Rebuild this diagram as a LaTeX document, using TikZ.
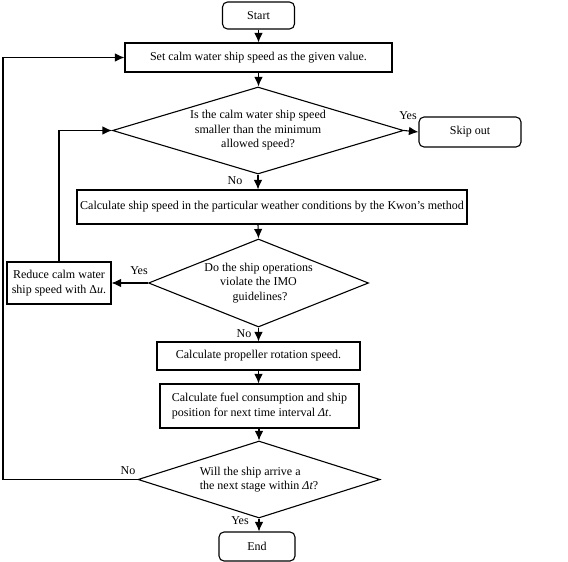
\documentclass[tikz,border=0pt]{standalone}
\usepackage{fontspec}
\setmainfont{Liberation Serif}
\usetikzlibrary{shapes.geometric,arrows.meta}
\begin{document}
\begin{tikzpicture}[x=1bp,y=-1bp,
  every node/.style={font=\fontsize{12bp}{14.5bp}\selectfont},
  box/.style={draw,line width=1.1bp,inner sep=0pt,align=center},
  rbox/.style={box,rounded corners=5bp},
  dec/.style={draw,line width=1.1bp,diamond,inner sep=0pt},
  arr/.style={line width=1.1bp,-{Latex[length=9.5bp,width=8.5bp]}},
  lbl/.style={inner sep=0pt}]
\useasboundingbox (0,0) rectangle (568,562);
\node[rbox,minimum width=72bp,minimum height=27bp] (start) at (258.5,15.5) {Start};
\node[box,minimum width=267bp,minimum height=29bp] (set) at (258.5,57.5) {Set calm water ship speed as the given value.};
\node[dec,aspect=3.34,minimum width=291bp,minimum height=87bp,align=center] (d1) at (258,130.5) {Is the calm water ship speed\\smaller than the minimum\\allowed speed?};
\node[rbox,minimum width=102bp,minimum height=30bp] (skip) at (470,132) {Skip out};
\node[box,minimum width=390bp,minimum height=34bp] (kwon) at (272,207) {Calculate ship speed in the particular weather conditions by the Kwon’s method};
\node[dec,aspect=2.5,minimum width=220bp,minimum height=88bp,align=center] (d2) at (258.5,283) {Do the ship operations\\violate the IMO\\ \ guidelines?};
\node[box,minimum width=104bp,minimum height=42bp] (reduce) at (59,283) {Reduce calm water\\ship speed with Δ\textit{u}.};
\node[box,minimum width=203bp,minimum height=28bp] (prop) at (258.5,356) {Calculate propeller rotation speed.};
\node[box,minimum width=199bp,minimum height=44bp,align=left] (fuel) at (259.5,406) {Calculate fuel consumption and ship\\position for next time interval {\itshape Δt}.};
\node[dec,aspect=3.14,minimum width=242bp,minimum height=77bp,align=left] (d3) at (259,479.5) {Will the ship arrive a\\the next stage within {\itshape Δt}?};
\node[rbox,minimum width=76bp,minimum height=29bp] (end) at (257,546.5) {End};
\coordinate (lp) at (3,479.5);
% connectors
\draw[arr] (start.south) -- (start.south |- set.north);
\draw[arr] (set.south) -- (set.south |- d1.north);
\draw[arr] (d1.east) -- (skip.west);
\draw[arr] (d1.south) -- (d1.south |- kwon.north);
\draw[arr] (d1.south |- kwon.south) -- (d2.north);
\draw[arr] (d2.west) -- (reduce.east);
\draw[arr] (reduce.north) -- (reduce.north |- d1.west) -- (d1.west);
\draw[arr] (d2.south) -- (d2.south |- prop.north);
\draw[arr] (prop.south) -- (prop.south |- fuel.north);
\draw[arr] (fuel.south -| d3.north) -- (d3.north);
\draw[arr] (d3.south) -- (d3.south |- end.north);
\draw[arr] (d3.west) -- (lp) -- (lp |- set.west) -- (set.west);
% labels
\node[lbl] (y1) at (408,116) {Yes};
\node[lbl] (n1) at (235,181) {No};
\node[lbl] (y2) at (139,271) {Yes};
\node[lbl] (n2) at (244,334) {No};
\node[lbl] (n3) at (128,471) {No};
\node[lbl] (y3) at (240,521) {Yes};
\end{tikzpicture}
\end{document}
